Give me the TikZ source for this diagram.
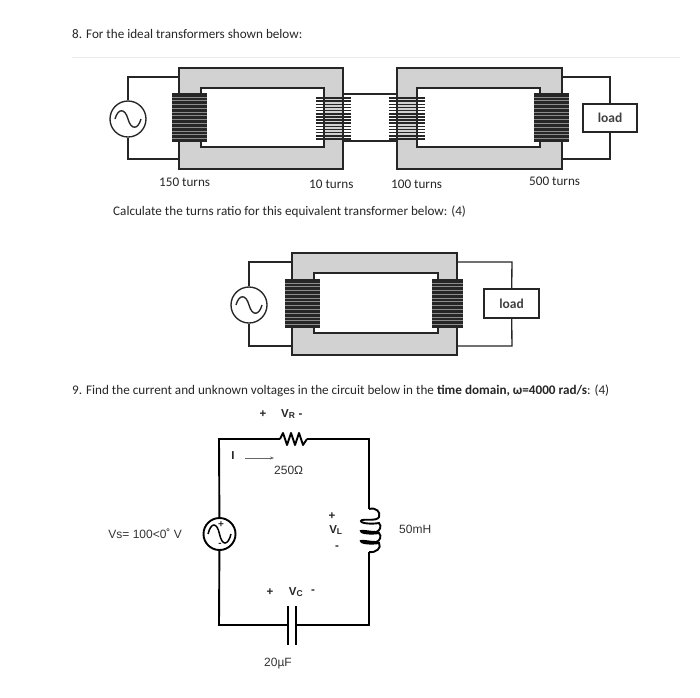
\documentclass[tikz,border=0pt]{standalone}
\usepackage{fontspec}
\usetikzlibrary{arrows.meta}
\setmainfont{Carlito}
\newfontfamily\labfont{Liberation Sans}
\definecolor{ink}{HTML}{262626}
\definecolor{core}{HTML}{D2D2D2}
\tikzset{
  x=1pt,y=-1pt,
  wire/.style={draw=ink,line width=1.35pt},
  corepath/.style={draw=ink,line width=1.35pt,fill=core,even odd rule},
  srcnode/.style={circle,draw=ink,line width=1.35pt,fill=white,minimum size=36pt,inner sep=0pt},
  loadnode/.style={rectangle,draw=ink,line width=1.35pt,fill=white,inner sep=0pt,font=\bfseries\fontsize{13.5}{15}\selectfont,text=black!75},
  cwire/.style={draw=black,line width=1.9pt},
  txt/.style={inner sep=0pt,font=\fontsize{13.15}{15}\selectfont,text=black!85},
  lab/.style={inner sep=0pt,font=\labfont\fontsize{12}{14}\selectfont,text=black!80},
  blab/.style={inner sep=0pt,font=\labfont\bfseries\fontsize{11.5}{13}\selectfont,text=black!85},
}
\newcommand{\lightcoil}[4]{%
  \foreach \k in {0,...,13}{\draw[draw=ink,line width=1.6pt] (#1,{#3+\k*(#4-#3)/13}) -- (#2,{#3+\k*(#4-#3)/13});}}
\newcommand{\darkcoil}[4]{%
  \fill[black!85] (#1,#3) rectangle (#2,#4);
  \foreach \k in {1,...,12}{\draw[draw=white!55!black,line width=.3pt] (#1,{#3+\k*(#4-#3)/13}) -- (#2,{#3+\k*(#4-#3)/13});}}
\newcommand{\sinewave}[2]{%
  \draw[draw=ink,line width=1.35pt] (#1-13,#2) .. controls (#1-10,#2-11) and (#1-3,#2-11) .. (#1,#2) .. controls (#1+3,#2+11) and (#1+10,#2+11) .. (#1+13,#2);}
\begin{document}
\begin{tikzpicture}
\useasboundingbox (0,0) rectangle (700,697);
\fill[white] (0,0) rectangle (700,697);
\draw[black!8,line width=.8pt] (72,57) -- (680,57);

\node[txt,anchor=west] (q8) at (72,34) {8. For the ideal transformers shown below:};

% first pair
\coordinate (ta) at (128,77); \coordinate (tb) at (179,77);
\coordinate (ba) at (128,159); \coordinate (bb) at (179,159);
\node[srcnode] (s1) at (128,119) {};
\draw[wire] (s1) -- (ta) -- (tb);
\draw[wire] (s1) -- (ba) -- (bb);
\coordinate (l1) at (343,94); \coordinate (l2) at (397,94);
\coordinate (l3) at (343,141); \coordinate (l4) at (397,141);
\draw[wire] (l1) -- (l2);
\draw[wire] (l3) -- (l4);
\draw[corepath] (179,68) rectangle (343,169) (201,88) rectangle (324,147);
\draw[corepath] (397,68) rectangle (562,169) (417,88) rectangle (540,147);
\darkcoil{172}{207}{93}{142}
\lightcoil{316}{351}{98}{139}
\lightcoil{389}{425}{98}{139}
\darkcoil{534}{569}{93}{142}
\sinewave{128}{119}

\node[loadnode,minimum width=54pt,minimum height=28pt] (load1) at (610,118) {load};
\coordinate (tc) at (562,77); \coordinate (td) at (610,77);
\coordinate (bc) at (562,159); \coordinate (bd) at (610,159);
\draw[wire] (tc) -- (td) -- (load1);
\draw[wire] (bc) -- (bd) -- (load1);

\node[txt,anchor=west] (n150) at (159,182) {150 turns};
\node[txt,anchor=west] (n10) at (309,184) {10 turns};
\node[txt,anchor=west] (n100) at (391,184) {100 turns};
\node[txt,anchor=west] (n500) at (529,181) {500 turns};
\node[txt,anchor=west] (calc) at (113,212) {Calculate the turns ratio for this equivalent transformer below: (4)};

% equivalent
\node[srcnode] (s2) at (249,305) {};
\coordinate (te) at (249,262); \coordinate (tf) at (292,262);
\coordinate (be) at (249,346); \coordinate (bf) at (292,346);
\draw[wire] (s2) -- (te) -- (tf);
\draw[wire] (s2) -- (be) -- (bf);
\draw[corepath] (292,253) rectangle (457,355) (314,273) rectangle (438,333);
\darkcoil{285}{320}{279}{328}
\darkcoil{432}{463}{279}{328}
\sinewave{249}{305}
\node[loadnode,minimum width=55pt,minimum height=29pt] (load2) at (511.5,303.5) {load};
\coordinate (tg) at (457,262); \coordinate (th) at (512,262);
\coordinate (bg) at (457,346); \coordinate (bh) at (512,346);
\draw[wire] (tg) -- (th) -- (load2);
\draw[wire] (bg) -- (bh) -- (load2);

\node[txt,anchor=west] (q9) at (72,391) {9. Find the current and unknown voltages in the circuit below in the \textbf{time domain, ω=4000 rad/s}: (4)};

% circuit
\coordinate (c1) at (219,439); \coordinate (c2) at (369,439);
\coordinate (c3) at (369,625); \coordinate (c4) at (219,625);
\coordinate (r1) at (280,439); \coordinate (r2) at (307,439);
\coordinate (i1) at (369,509); \coordinate (i2) at (369,552);
\coordinate (k1) at (288,625); \coordinate (k2) at (296,625);
\node[circle,draw=black,line width=1.9pt,fill=white,minimum size=32pt,inner sep=0pt] (vs) at (219.5,534) {};
\draw[cwire] (vs) -- (c1) -- (r1);
\draw[cwire,line join=round] (r1) -- ++(3,-6) -- ++(4,12) -- ++(4,-12) -- ++(4,12) -- ++(4,-12) -- ++(4,12) -- (r2);
\draw[cwire] (r2) -- (c2) -- (i1);
\draw[cwire] (i1) .. controls (376,507) and (381,512) .. (379,517) .. controls (377,522) and (361,518) .. (361,521) .. controls (361,524) and (374,524) .. (379,523)
  .. controls (382,526) and (380,531) .. (376,532) .. controls (370,532) and (361,530) .. (361,531) .. controls (361,534) and (374,534) .. (379,533)
  .. controls (382,536) and (380,541) .. (376,542) .. controls (370,542) and (361,540) .. (361,541) .. controls (361,544) and (374,544) .. (379,543)
  .. controls (382,548) and (376,553) .. (i2);
\draw[cwire] (i2) -- (c3) -- (k2);
\draw[cwire] (k1) -- (c4) -- (vs);
\draw[cwire] (288,606) -- (288,645);
\draw[cwire] (296,606) -- (296,645);
\draw[draw=black,line width=1.5pt] (208,534) .. controls (211,522) and (217,522) .. (219.5,534) .. controls (222,546) and (228,546) .. (231,534);
\node[blab,font=\labfont\bfseries\fontsize{10}{11}\selectfont] (vsp) at (221,525) {+};
\node[blab,font=\labfont\bfseries\fontsize{10}{11}\selectfont] (vsm) at (220,545) {-};

\node[blab] (rp) at (263,414) {+};
\node[blab,anchor=west] (vr) at (281,414) {V\textsubscript{\fontsize{8.5}{8.5}\selectfont R} -};
\node[blab] (il) at (233,456) {I};
\coordinate (ia) at (245,458); \coordinate (ib) at (274,458);
\draw[-{Stealth[length=4pt,width=3pt]},black!60,line width=.5pt] (ia) -- (ib);
\node[lab,anchor=west] (r) at (274,470) {250Ω};
\node[lab,anchor=east] (vsl) at (182,534) {Vs= 100<0˚ V};
\node[blab] (lp) at (332,516) {+};
\node[blab] (lv) at (336,530) {V\textsubscript{\fontsize{8.5}{8.5}\selectfont L}};
\node[blab] (lm) at (337,548) {-};
\node[lab,anchor=west] (lval) at (399,529) {50mH};
\node[blab] (cp) at (270,592) {+};
\node[blab] (cv) at (296,592) {V\textsubscript{\fontsize{8.5}{8.5}\selectfont C}};
\node[blab] (cm) at (313,592) {-};
\node[lab] (cval) at (278,664) {20µF};
\end{tikzpicture}
\end{document}
